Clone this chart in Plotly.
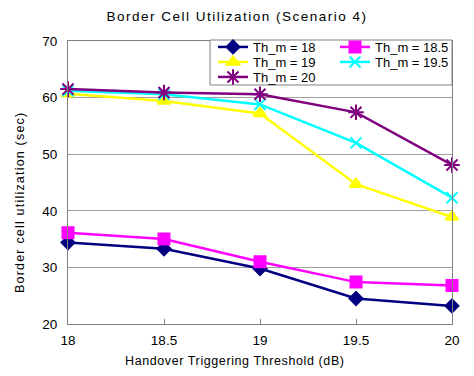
import plotly.graph_objects as go

x_vals = [18, 18.5, 19, 19.5, 20]
x_tick_labels = ["18", "18.5", "19", "19.5", "20"]
series_names = ["Th_m = 18", "Th_m = 18.5", "Th_m = 19", "Th_m = 19.5", "Th_m = 20"]
th18 = [34.4, 33.3, 29.8, 24.5, 23.2]
th18_5 = [36.1, 35.0, 31.0, 27.4, 26.8]
th19 = [60.7, 59.4, 57.2, 44.7, 38.9]
th19_5 = [61.2, 60.6, 58.8, 52.0, 42.3]
th20 = [61.5, 60.9, 60.6, 57.4, 48.1]

series = [th18, th18_5, th19, th19_5, th20]
colors = ["#000080", "#FF00FF", "#FFFF00", "#00FFFF", "#800080"]
symbols = ["diamond", "square", "triangle-up", "x-thin-open", "asterisk-open"]
sizes = [10, 11, 11, 11, 13]
legend_ids = ["legend", "legend", "legend2", "legend2", "legend3"]

W, H = 474, 376
ML, MR, MT, MB = 68, 22, 41, 52
PW, PH = W - ML - MR, H - MT - MB


def px_to_paper_x(px):
    return (px - ML) / PW


def px_to_paper_y(py):
    return (H - MB - py) / PH


fig = go.Figure()
for name, ys, c, s, sz, lg in zip(series_names, series, colors, symbols, sizes, legend_ids):
    fig.add_trace(go.Scatter(
        x=x_vals, y=ys, name=name, mode="lines+markers",
        line=dict(color=c, width=2.5),
        marker=dict(symbol=s, size=sz, color=c, line=dict(color=c, width=2)),
        cliponaxis=False, legend=lg,
    ))

sans = "Liberation Sans, Arial, sans-serif"
leg_common = dict(
    orientation="h", xanchor="left", yanchor="middle",
    entrywidth=77, entrywidthmode="pixels",
    bgcolor="rgba(0,0,0,0)", borderwidth=0,
    font=dict(size=13, family=sans, color="black"),
    itemwidth=30,
)
leg_x = px_to_paper_x(213)

fig.update_layout(
    width=W, height=H,
    margin=dict(l=ML, r=MR, t=MT, b=MB),
    paper_bgcolor="white", plot_bgcolor="white",
    font=dict(family=sans, color="black", size=12),
    title=dict(text='<span style="letter-spacing:1.5px">Border Cell Utilization (Scenario 4)</span>',
               x=0.5, xanchor="center", y=1 - 16 / H, yanchor="middle",
               font=dict(size=13.5, color="black", family=sans)),
    showlegend=True,
    legend=dict(x=leg_x, y=px_to_paper_y(47), **leg_common),
    legend2=dict(x=leg_x, y=px_to_paper_y(62), **leg_common),
    legend3=dict(x=leg_x, y=px_to_paper_y(77), **leg_common),
    shapes=[dict(type="rect", xref="paper", yref="paper",
                 x0=px_to_paper_x(210), x1=px_to_paper_x(452),
                 y0=px_to_paper_y(85), y1=px_to_paper_y(40),
                 fillcolor="white", line=dict(color="#808080", width=1), layer="above")],
    annotations=[
        dict(text='<span style="letter-spacing:0.6px">Handover Triggering Threshold (dB)</span>',
             xref="paper", yref="paper", x=px_to_paper_x(235), y=px_to_paper_y(361),
             xanchor="center", yanchor="middle", showarrow=False,
             font=dict(size=12.5, family=sans, color="black")),
        dict(text='<span style="letter-spacing:1.2px">Border cell utilization (sec)</span>',
             xref="paper", yref="paper", x=px_to_paper_x(20), y=px_to_paper_y(203),
             xanchor="center", yanchor="middle", showarrow=False, textangle=-90,
             font=dict(size=12.5, family=sans, color="black")),
    ],
    xaxis=dict(
        range=[18, 20], tickvals=x_vals, ticktext=x_tick_labels,
        showgrid=False, zeroline=False,
        showline=True, linecolor="#808080", linewidth=1, mirror=True,
        ticks="inside", ticklen=5, tickcolor="#808080",
        tickfont=dict(size=13.5), ticklabelstandoff=4,
    ),
    yaxis=dict(
        range=[20, 70], dtick=10, tick0=20,
        showgrid=True, gridcolor="#A0A0A0", gridwidth=1, zeroline=False,
        showline=True, linecolor="#808080", linewidth=1, mirror=True,
        ticks="", tickfont=dict(size=13.5), ticklabelstandoff=7,
    ),
)

fig.write_html("out.html", post_script="document.body.style.margin='0';",
               config={"displayModeBar": False})
